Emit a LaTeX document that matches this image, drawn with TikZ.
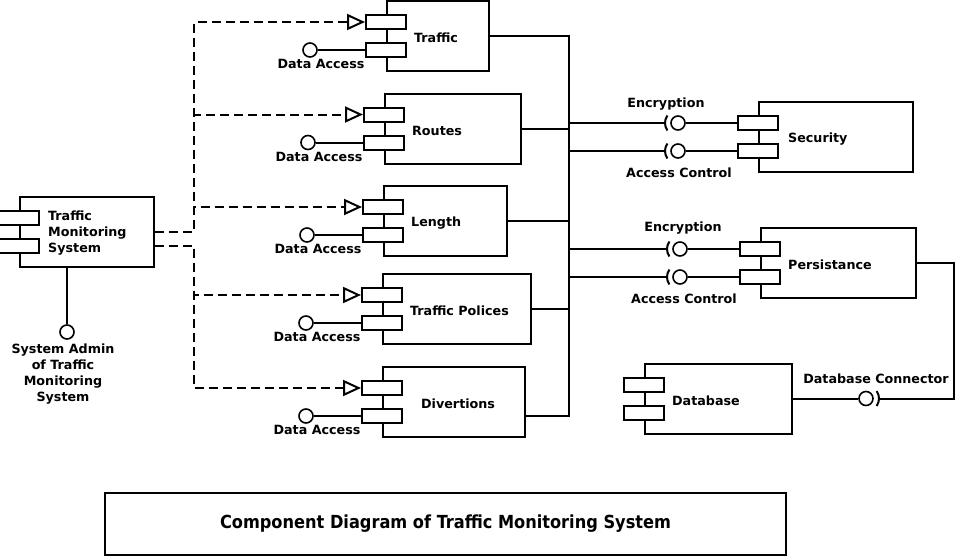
\documentclass[tikz,border=0pt]{standalone}
\usepackage{fontspec}
\setmainfont{DejaVu Sans}
\newfontfamily\condfont{DejaVu Sans Condensed Bold}
\usetikzlibrary{arrows.meta}
\tikzset{
  comp/.style={draw,line width=2pt,minimum height=70pt,inner sep=0pt},
  port/.style={draw,fill=white,line width=2pt,minimum width=40pt,minimum height=14pt,inner sep=0pt},
  ball/.style={circle,draw,fill=white,line width=1.6pt,minimum size=14pt,inner sep=0pt},
  lbl/.style={font=\bfseries\fontsize{12.7}{16}\selectfont,inner sep=0pt,align=center},
  wire/.style={line width=2pt},
  dep/.style={line width=2pt,dash pattern=on 9pt off 5pt,-{Triangle[length=18pt,width=16pt,fill=white]}},
}
\begin{document}
\begin{tikzpicture}[x=1pt,y=-1pt]
	\useasboundingbox (0,0) rectangle (956,558);
	% components with their two ports
	\foreach \n/\x/\y/\w/\s/\t in {
		traffic/438/36/102/28/Traffic,
		routes/453/128.5/136/28/Routes,
		length/445.5/221/123/28/Length,
		polices/457/309/148/28/Traffic Polices,
		divertions/454/402/142/39/Divertions,
		tms/87/231.5/134/29/{Traffic\\Monitoring\\System},
		security/836/137/154/30/Security,
		persistance/838.5/263/155/28/Persistance,
		database/718.5/398.5/147/28/Database}
	{
		\node[comp,minimum width=\w pt] (\n) at (\x,\y) {};
		\node[port] (\n-a) at ([yshift=14pt]\n.west) {};
		\node[port] (\n-b) at ([yshift=-14pt]\n.west) {};
		\node[lbl,anchor=west,align=left] (\n-t) at ([xshift=\s pt,yshift=-2pt]\n.west) {\t};
	}
	% provided interfaces
	\foreach \n in {traffic,routes,length,polices,divertions}{
		\node[ball] (\n-da) at ([xshift=-55pt]\n-b.west) {};
		\node[lbl] (\n-dal) at ([xshift=11pt,yshift=-14pt]\n-da.center) {Data Access};
		\draw[wire] (\n-da) -- (\n-b);
	}
	\node[ball] (admin) at (67,332) {};
	\node[lbl] (admin-t) at ([xshift=-4pt,yshift=-42pt]admin.center) {System Admin\\of Traffic\\Monitoring\\System};
	\draw[wire] (admin) -- (admin |- tms.south);
	% dependencies
	\coordinate (up) at ([xshift=39pt]tms.east);
	\coordinate (dn) at ([xshift=39pt,yshift=-14pt]tms.east);
	\foreach \n in {traffic,routes,length}
		\draw[dep] (tms.east) -- (up) |- (\n-a);
	\foreach \n in {polices,divertions}
		\draw[dep] ([yshift=-14pt]tms.east) -- (dn) |- (\n-a);
	% bus
	\coordinate (bus) at (569,0);
	\coordinate (dv) at ([yshift=-14pt]divertions.east);
	\draw[wire] (traffic.east) -| (dv -| bus) -- (dv);
	\foreach \n in {routes,length,polices}
		\draw[wire] (\n.east) -- (\n.east -| bus);
	% required interfaces
	\foreach \n/\p/\t/\dx/\dy in {sec-enc/security-a/Encryption/-12/19,
		sec-acc/security-b/Access Control/1/-22,
		per-enc/persistance-a/Encryption/3/21,
		per-acc/persistance-b/Access Control/4/-22}{
		\node[ball] (\n) at ([xshift=-59pt]\p.west) {};
		\draw[wire] ([shift={(145:13pt)}]\n.center) arc (145:215:13pt);
		\coordinate (\n-s) at ([xshift=-13pt]\n.center);
		\node[lbl] (\n-l) at ([xshift=\dx pt,yshift=\dy pt]\n.center) {\t};
		\draw[wire] (\n) -- (\p);
		\draw[wire] (\n-s) -- (\n-s -| bus);
	}
	% database connector
	\node[ball] (dbc) at ([xshift=73pt]database.east) {};
	\draw[wire] ([shift={(-35:13pt)}]dbc.center) arc (-35:35:13pt);
	\coordinate (dbc-s) at ([xshift=13pt]dbc.center);
	\coordinate (pc) at ([xshift=37pt]persistance.east);
	\node[lbl] (dbc-l) at ([xshift=10pt,yshift=20pt]dbc.center) {Database Connector};
	\draw[wire] (database.east) -- (dbc);
	\draw[wire] (persistance.east) -- (pc) |- (dbc-s);
	% title
	\node[draw,line width=2pt,minimum width=681pt,minimum height=62pt] (title) at (445.5,524)
		{\condfont\fontsize{18}{22}\selectfont Component Diagram of Traffic Monitoring System};
\end{tikzpicture}
\end{document}
